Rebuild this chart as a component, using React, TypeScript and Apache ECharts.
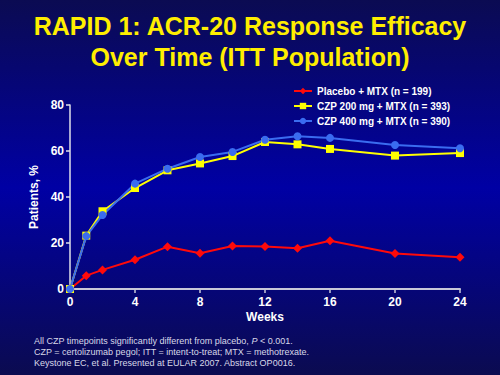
import React, { useEffect, useRef } from "react";
import * as echarts from "echarts";

const weeks = [0, 1, 2, 4, 6, 8, 10, 12, 14, 16, 20, 24];
const placebo = [0, 5.8, 8.3, 12.7, 18.4, 15.5, 18.7, 18.5, 17.7, 21.0, 15.4, 13.8];
const czp200 = [0, 23.2, 33.8, 43.9, 51.6, 54.6, 57.8, 63.9, 62.9, 60.9, 58.0, 59.1];
const czp400 = [0, 23.0, 32.2, 45.8, 52.3, 57.4, 59.6, 64.9, 66.4, 65.7, 62.6, 61.2];
const seriesNames = ["Placebo + MTX (n = 199)", "CZP 200 mg + MTX (n = 393)", "CZP 400 mg + MTX (n = 390)"];
const xTicks = [0, 4, 8, 12, 16, 20, 24];
const titleLines = ["RAPID 1: ACR-20 Response Efficacy", "Over Time (ITT Population)"];
const footnotes = [
  "All CZP timepoints significantly different from placebo, ",
  "CZP = certolizumab pegol; ITT = intent-to-treat; MTX = methotrexate.",
  "Keystone EC, et al. Presented at EULAR 2007. Abstract OP0016.",
];

const FONT = "Liberation Sans, Arial, sans-serif";

export default function App() {
  const ref = useRef<HTMLDivElement>(null);
  useEffect(() => {
    if (!ref.current) return;
    const chart = echarts.init(ref.current, undefined, { renderer: "svg" });
    const pair = (ys: number[]) => weeks.map((w, i) => [w, ys[i]]);
    chart.setOption({
      animation: false,
      backgroundColor: new echarts.graphic.LinearGradient(0, 0, 0, 1, [
        { offset: 0, color: "#0b0b52" },
        { offset: 0.5, color: "#0000a4" },
        { offset: 1, color: "#0b0b50" },
      ]),
      textStyle: { fontFamily: FONT },
      title: {
        text: titleLines.join("\n"),
        left: "center",
        top: 5,
        textStyle: { color: "#ffee00", fontSize: 25, fontWeight: "bold", lineHeight: 31, fontFamily: FONT },
      },
      legend: {
        orient: "vertical",
        left: 288,
        top: 81,
        itemGap: 5,
        itemWidth: 18,
        itemHeight: 8,
        data: seriesNames,
        textStyle: { color: "#ffffff", fontSize: 10, fontWeight: "bold", fontFamily: FONT },
      },
      grid: { left: 70, right: 40, top: 105, bottom: 86 },
      xAxis: {
        type: "value",
        min: 0,
        max: 24,
        interval: 4,
        name: "Weeks",
        nameLocation: "middle",
        nameGap: 22,
        nameTextStyle: { color: "#ffffff", fontSize: 12, fontWeight: "bold" },
        axisLine: { lineStyle: { color: "#c8c8d8", width: 2 } },
        axisTick: { lineStyle: { color: "#c8c8d8", width: 1.5 }, length: 4 },
        axisLabel: {
          color: "#ffffff",
          fontSize: 12,
          fontWeight: "bold",
          margin: 7,
          customValues: xTicks,
        },
        splitLine: { show: false },
      },
      yAxis: {
        type: "value",
        min: 0,
        max: 80,
        interval: 20,
        name: "Patients, %",
        nameLocation: "middle",
        nameGap: 26,
        nameTextStyle: { color: "#ffffff", fontSize: 12, fontWeight: "bold" },
        axisLine: { show: true, lineStyle: { color: "#e0e0ea", width: 1.5 } },
        axisTick: { show: true, lineStyle: { color: "#e0e0ea", width: 1.5 }, length: 4 },
        axisLabel: { color: "#ffffff", fontSize: 12, fontWeight: "bold", margin: 6 },
        splitLine: { show: false },
      },
      series: [
        {
          name: seriesNames[0],
          type: "line",
          data: pair(placebo),
          symbol: "diamond",
          symbolSize: 9,
          itemStyle: { color: "#ff0a0a" },
          lineStyle: { color: "#ff0a0a", width: 2 },
        },
        {
          name: seriesNames[1],
          type: "line",
          data: pair(czp200),
          symbol: "rect",
          symbolSize: 8,
          itemStyle: { color: "#ffff00" },
          lineStyle: { color: "#ffff00", width: 2 },
        },
        {
          name: seriesNames[2],
          type: "line",
          data: pair(czp400),
          symbol: "circle",
          symbolSize: 8,
          itemStyle: { color: "#3a6cf0" },
          lineStyle: { color: "#3a6cf0", width: 2 },
        },
      ],
      graphic: [
        {
          type: "text",
          left: 34,
          top: 336,
          style: {
            text: "{n|" + footnotes[0] + "}{i|P}{n| < 0.001.}\n{n|" + footnotes[1] + "}\n{n|" + footnotes[2] + "}",
            rich: {
              n: { fill: "#d8d8e8", fontSize: 9, fontFamily: FONT, lineHeight: 11 },
              i: { fill: "#d8d8e8", fontSize: 9, fontFamily: FONT, fontStyle: "italic", lineHeight: 11 },
            },
          },
        },
      ],
    });
    return () => chart.dispose();
  }, []);
  return (
    <div
      ref={ref}
      style={{ position: "fixed", left: 0, top: 0, width: 500, height: 375 }}
    />
  );
}
